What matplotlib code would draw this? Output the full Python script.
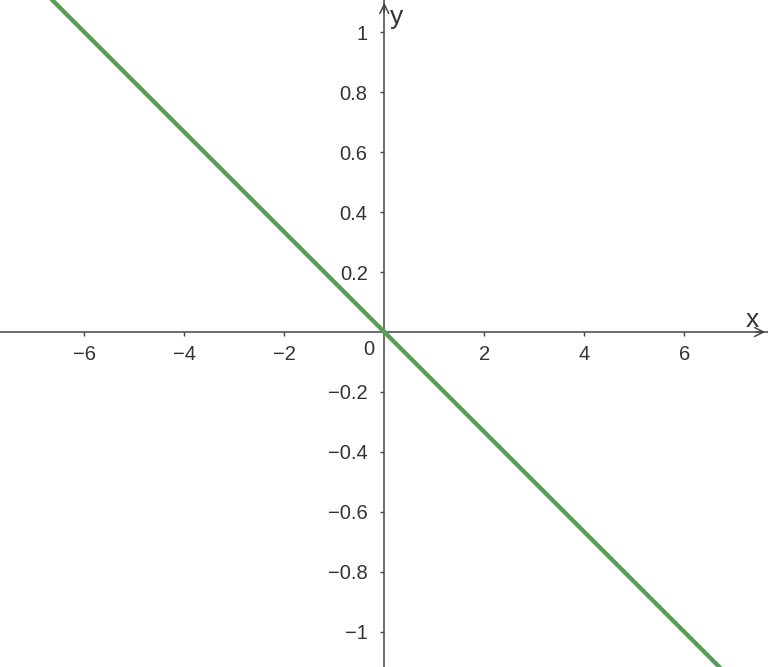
import matplotlib.pyplot as plt
import numpy as np

plt.rcParams['font.family'] = ['Liberation Sans', 'DejaVu Sans']

# view window and line y = m*x
x_min, x_max = -7.686, 7.674
y_min, y_max = -1.117, 1.107
slope = -1/6
x_ticks = [-6, -4, -2, 2, 4, 6]
y_ticks = [-1, -0.8, -0.6, -0.4, -0.2, 0.2, 0.4, 0.6, 0.8, 1]

axis_col = '#444444'
text_col = '#333333'
line_col = '#579d57'

fig = plt.figure(figsize=(7.68, 6.67), dpi=100)
ax = fig.add_axes([0, 0, 1, 1])
ax.set_xlim(x_min, x_max)
ax.set_ylim(y_min, y_max)

# the line
xs = np.array([x_min, x_max])
ax.plot(xs, slope*xs, color=line_col, lw=3.1, solid_capstyle='butt', zorder=3)

# axes through origin
for s in ['top', 'right']:
    ax.spines[s].set_visible(False)
ax.spines['left'].set_position(('data', 0))
ax.spines['bottom'].set_position(('data', 0))
ax.spines['left'].set_color(axis_col)
ax.spines['bottom'].set_color(axis_col)
ax.spines['left'].set_linewidth(1.1)
ax.spines['bottom'].set_linewidth(1.1)

ax.set_xticks(x_ticks)
ax.set_xticklabels([f'{t:g}'.replace('-', '\u2212') for t in x_ticks])
ax.set_yticks(y_ticks)
ax.set_yticklabels([f'{t:g}'.replace('-', '\u2212') for t in y_ticks])
ax.tick_params(axis='both', direction='out', length=3, width=1, color=axis_col,
               labelcolor=text_col, labelsize=14.5)
ax.tick_params(axis='x', pad=6)
ax.tick_params(axis='y', pad=9)

ax.text(-0.3, -0.06, '0', ha='center', va='center', fontsize=14.5, color=text_col)

# arrow heads
ax.annotate('', xy=(x_max, 0), xytext=(x_max - 0.3, 0),
            arrowprops=dict(arrowstyle='->', color=axis_col, lw=1.1, mutation_scale=16))
ax.annotate('', xy=(0, y_max), xytext=(0, y_max - 0.05),
            arrowprops=dict(arrowstyle='->', color=axis_col, lw=1.1, mutation_scale=16))

ax.text(7.36, 0.04, 'x', ha='center', va='center', fontsize=19, color=text_col)
ax.text(0.24, 1.05, 'y', ha='center', va='center', fontsize=19, color=text_col)

fig.savefig('out.png', dpi=100)
